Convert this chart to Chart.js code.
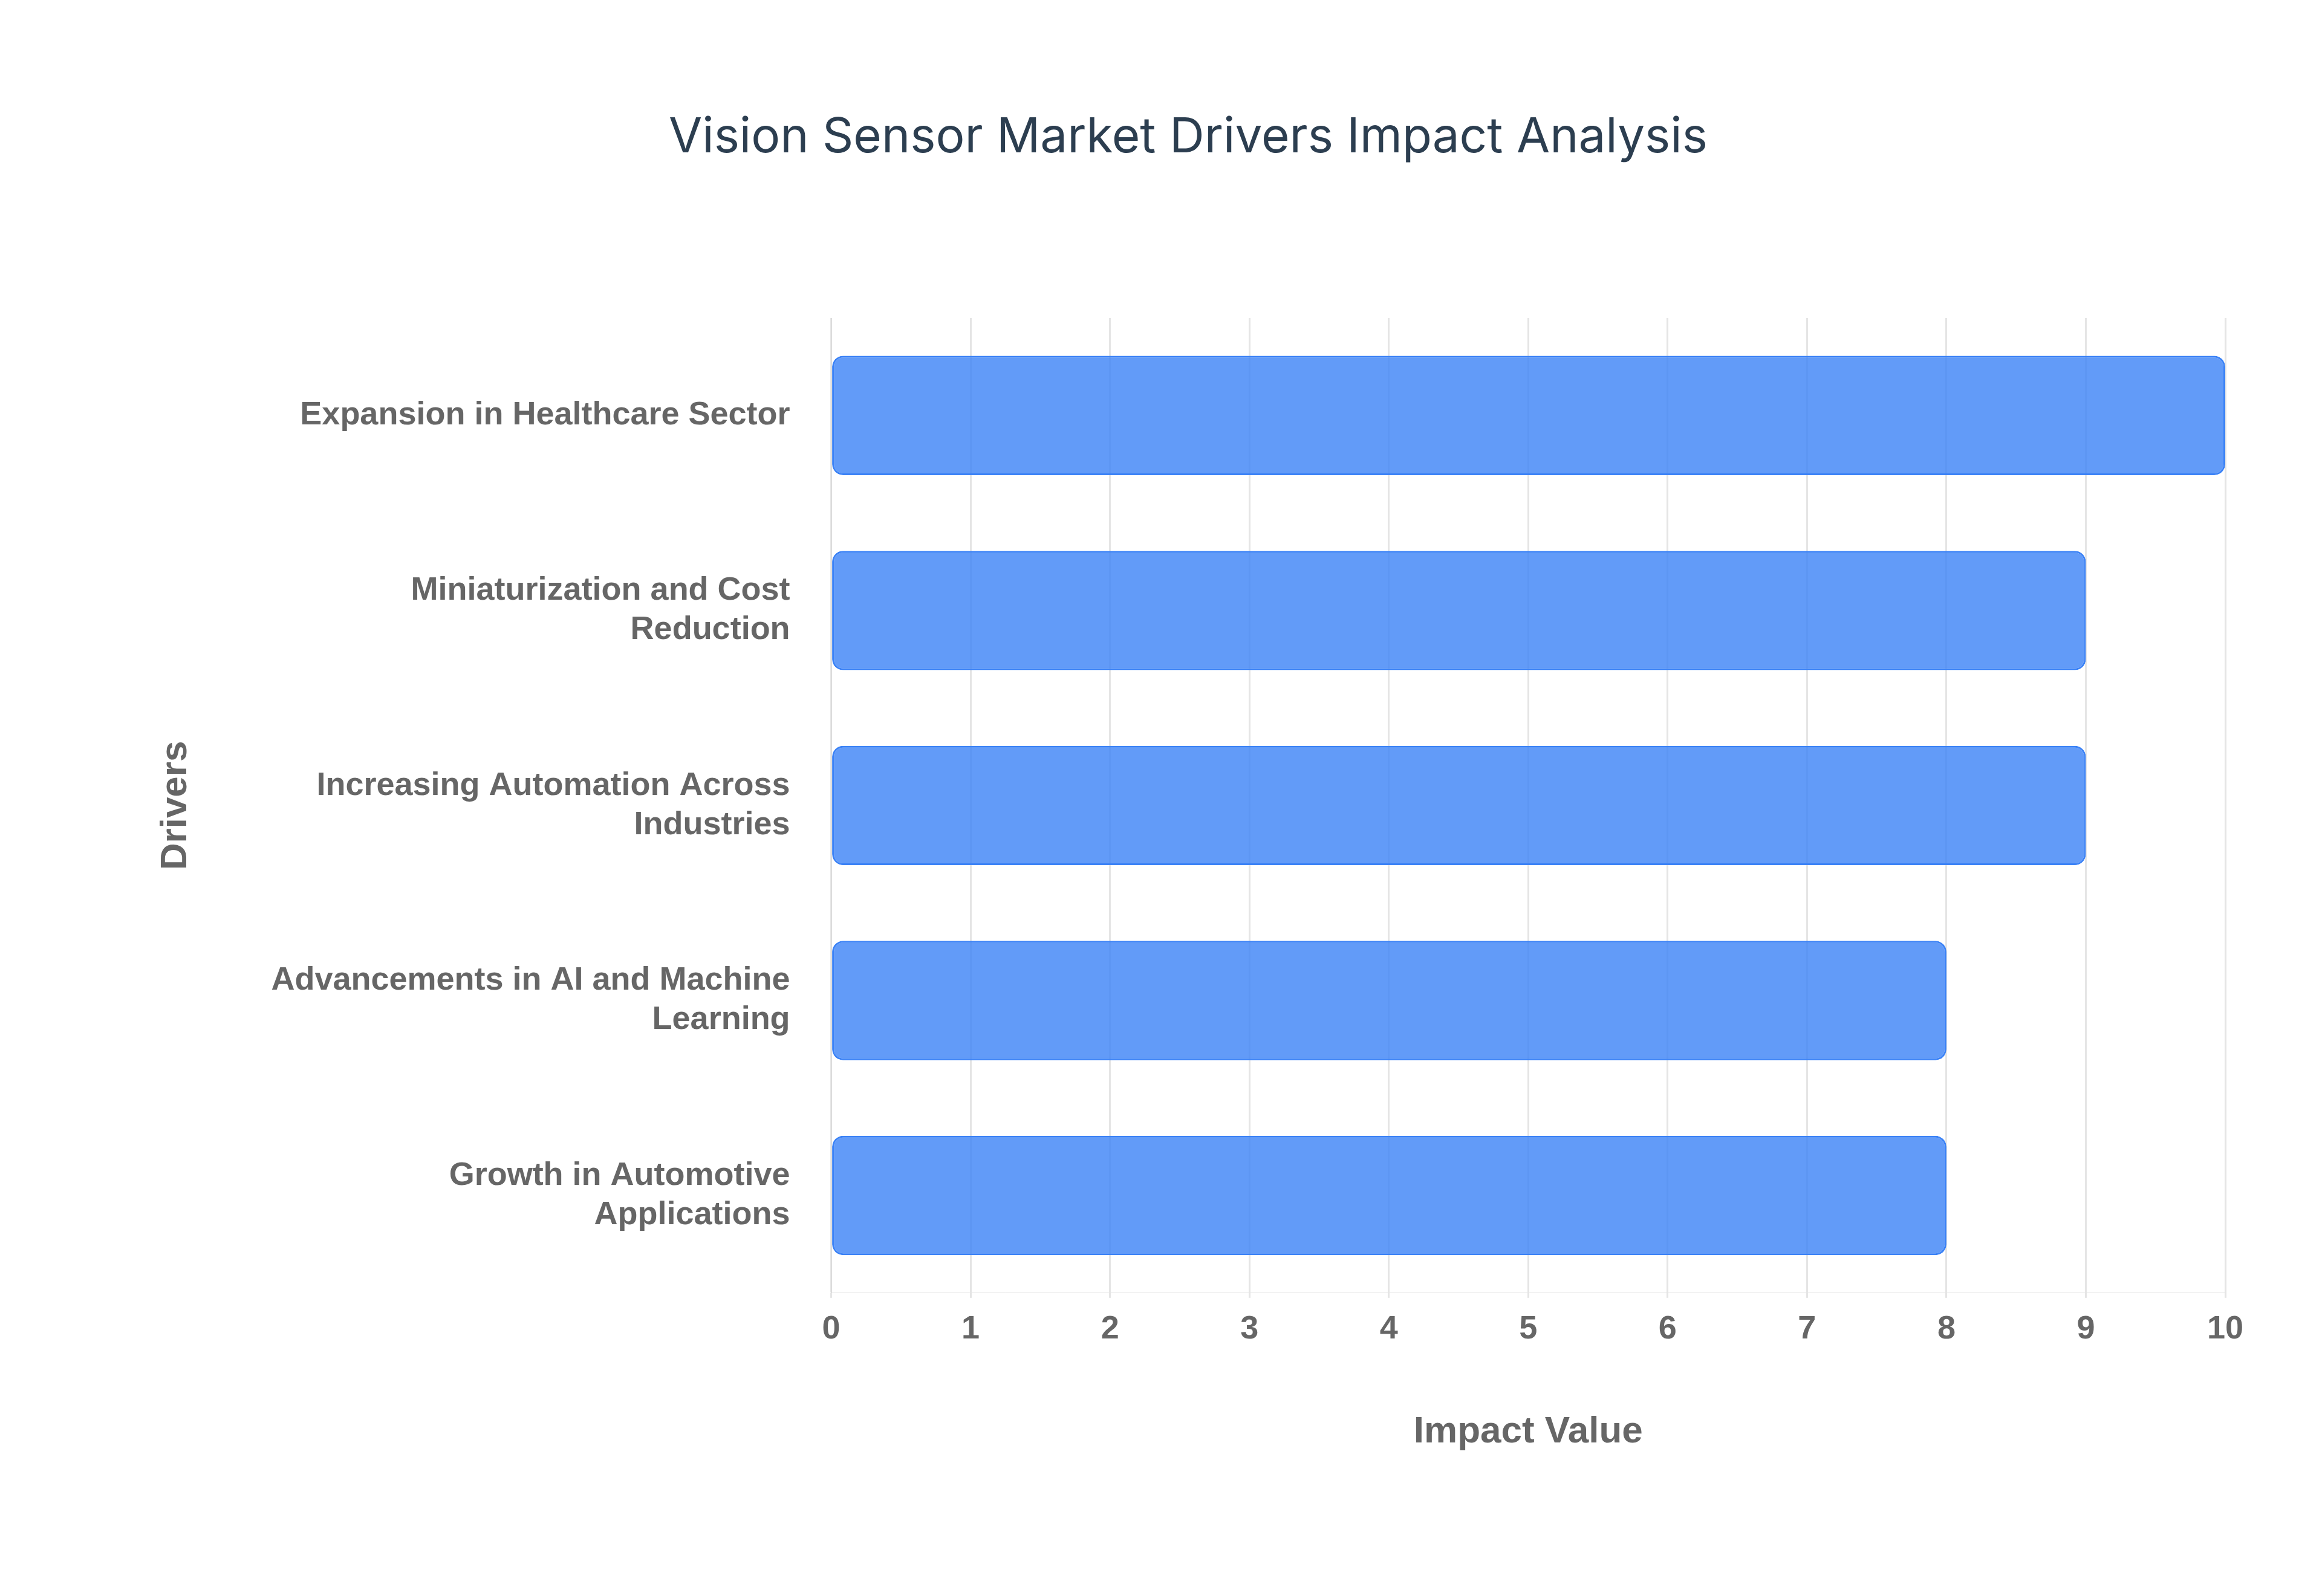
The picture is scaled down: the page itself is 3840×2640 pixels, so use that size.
<!DOCTYPE html>
<html><head><script src="https://cdn.jsdelivr.net/npm/chart.js@4"></script>
<style>html,body{margin:0;background:#fff}#w{width:3840px;height:2640px}</style></head>
<body><div id="w"><canvas id="c"></canvas></div>
<script>
const categories=[["Expansion in Healthcare Sector"],["Miniaturization and Cost","Reduction"],["Increasing Automation Across","Industries"],["Advancements in AI and Machine","Learning"],["Growth in Automotive","Applications"]];
const impactValues=[10,9,9,8,8];
const lab={family:"Liberation Sans, Arial, sans-serif",size:54,weight:"bold"};
new Chart(document.getElementById('c'),{type:'bar',
data:{labels:categories,datasets:[{data:impactValues,backgroundColor:'rgba(59,130,246,0.8)',borderColor:'#3b82f6',borderWidth:3,borderRadius:18,borderSkipped:false,barPercentage:0.68,categoryPercentage:0.9}]},
options:{indexAxis:'y',responsive:true,maintainAspectRatio:false,devicePixelRatio:1,animation:false,
layout:{padding:{left:250,right:160,bottom:230,top:0}},
plugins:{legend:{display:false},tooltip:{enabled:false},title:{display:true,text:'Vision Sensor Market Drivers Impact Analysis',color:'#2c3e50',font:{family:'Inter, sans-serif',size:80,weight:'normal'},padding:{top:180,bottom:250}}},
scales:{x:{min:0,max:10,ticks:{stepSize:1,color:'#666',font:lab,padding:20},grid:{color:'#e5e5e5',lineWidth:3},title:{display:true,text:'Impact Value',color:'#666',font:{...lab,size:62},padding:{top:80}}},
y:{ticks:{color:'#666',font:lab,padding:60},grid:{display:false},title:{display:true,text:'Drivers',color:'#666',font:{...lab,size:62},padding:{bottom:60}}}}}});
</script></body></html>
